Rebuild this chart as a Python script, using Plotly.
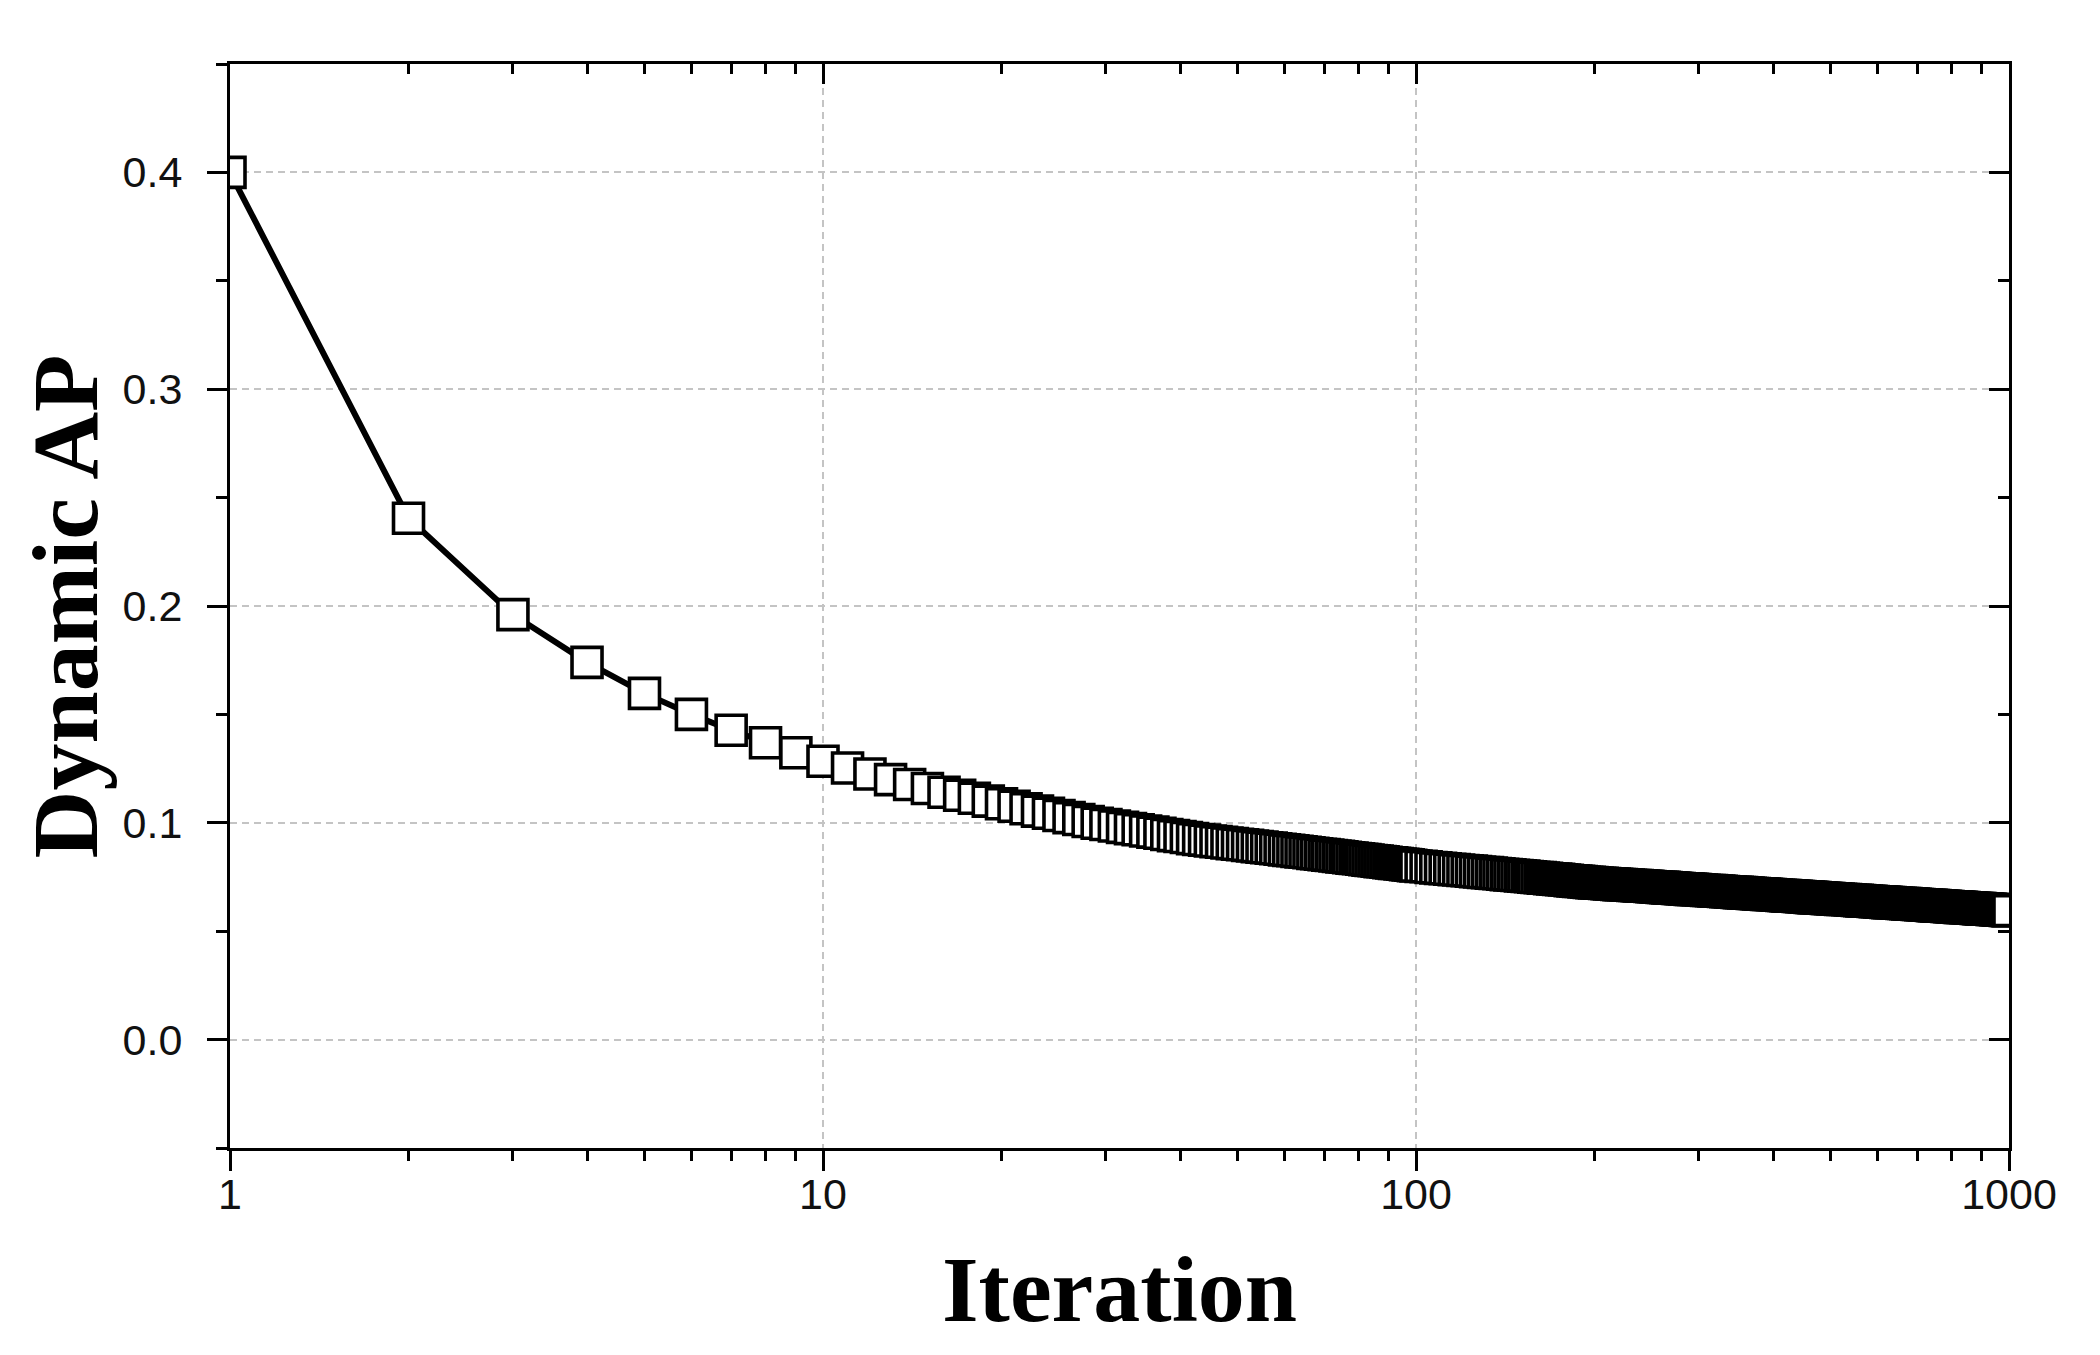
import plotly.graph_objects as go

# Iteration numbers (dense sampling so the markers merge into a band)
iterations_1_100 = list(range(1, 101))
iterations_102_300 = list(range(102, 301, 2))
iterations_303_501 = list(range(303, 502, 3))
iterations_505_1000 = list(range(505, 1001, 5))

# Dynamic AP
ap_1_100 = [
    0.4000, 0.2405, 0.1960, 0.1740, 0.1597, 0.1500, 0.1427, 0.1369, 0.1323, 0.1284,
    0.1253, 0.1225, 0.1199, 0.1177, 0.1158, 0.1141, 0.1127, 0.1113, 0.1100, 0.1088,
    0.1076, 0.1065, 0.1054, 0.1044, 0.1034, 0.1024, 0.1015, 0.1006, 0.0998, 0.0992,
    0.0985, 0.0979, 0.0973, 0.0968, 0.0962, 0.0957, 0.0952, 0.0946, 0.0941, 0.0937,
    0.0932, 0.0927, 0.0923, 0.0920, 0.0916, 0.0913, 0.0910, 0.0907, 0.0904, 0.0901,
    0.0899, 0.0896, 0.0893, 0.0890, 0.0888, 0.0885, 0.0883, 0.0880, 0.0878, 0.0875,
    0.0873, 0.0871, 0.0868, 0.0866, 0.0864, 0.0862, 0.0859, 0.0857, 0.0855, 0.0853,
    0.0851, 0.0849, 0.0847, 0.0845, 0.0843, 0.0841, 0.0839, 0.0837, 0.0835, 0.0834,
    0.0832, 0.0830, 0.0828, 0.0826, 0.0825, 0.0823, 0.0821, 0.0820, 0.0818, 0.0816,
    0.0815, 0.0813, 0.0812, 0.0810, 0.0809, 0.0807, 0.0806, 0.0804, 0.0802, 0.0801,
]
ap_102_300 = [
    0.0799, 0.0797, 0.0794, 0.0792, 0.0790, 0.0788, 0.0786, 0.0784, 0.0782, 0.0780,
    0.0779, 0.0777, 0.0775, 0.0773, 0.0771, 0.0770, 0.0768, 0.0766, 0.0765, 0.0763,
    0.0761, 0.0760, 0.0758, 0.0757, 0.0755, 0.0754, 0.0752, 0.0751, 0.0749, 0.0748,
    0.0747, 0.0745, 0.0744, 0.0742, 0.0741, 0.0740, 0.0739, 0.0737, 0.0736, 0.0735,
    0.0733, 0.0732, 0.0731, 0.0730, 0.0729, 0.0727, 0.0726, 0.0725, 0.0724, 0.0723,
    0.0722, 0.0721, 0.0721, 0.0720, 0.0719, 0.0718, 0.0718, 0.0717, 0.0716, 0.0715,
    0.0715, 0.0714, 0.0713, 0.0713, 0.0712, 0.0711, 0.0711, 0.0710, 0.0709, 0.0709,
    0.0708, 0.0707, 0.0707, 0.0706, 0.0705, 0.0705, 0.0704, 0.0703, 0.0703, 0.0702,
    0.0702, 0.0701, 0.0700, 0.0700, 0.0699, 0.0699, 0.0698, 0.0697, 0.0697, 0.0696,
    0.0696, 0.0695, 0.0695, 0.0694, 0.0693, 0.0693, 0.0692, 0.0692, 0.0691, 0.0691,
]
ap_303_501 = [
    0.0690, 0.0689, 0.0688, 0.0688, 0.0687, 0.0686, 0.0685, 0.0685, 0.0684, 0.0683,
    0.0682, 0.0682, 0.0681, 0.0680, 0.0680, 0.0679, 0.0678, 0.0678, 0.0677, 0.0676,
    0.0676, 0.0675, 0.0674, 0.0674, 0.0673, 0.0672, 0.0672, 0.0671, 0.0671, 0.0670,
    0.0669, 0.0669, 0.0668, 0.0668, 0.0667, 0.0666, 0.0666, 0.0665, 0.0665, 0.0664,
    0.0663, 0.0663, 0.0662, 0.0662, 0.0661, 0.0661, 0.0660, 0.0660, 0.0659, 0.0659,
    0.0658, 0.0658, 0.0657, 0.0656, 0.0656, 0.0655, 0.0655, 0.0654, 0.0654, 0.0653,
    0.0653, 0.0652, 0.0652, 0.0651, 0.0651, 0.0651, 0.0650,
]
ap_505_1000 = [
    0.0649, 0.0649, 0.0648, 0.0647, 0.0646, 0.0646, 0.0645, 0.0644, 0.0643, 0.0643,
    0.0642, 0.0641, 0.0640, 0.0640, 0.0639, 0.0638, 0.0638, 0.0637, 0.0636, 0.0636,
    0.0635, 0.0634, 0.0634, 0.0633, 0.0632, 0.0632, 0.0631, 0.0631, 0.0630, 0.0629,
    0.0629, 0.0628, 0.0628, 0.0627, 0.0626, 0.0626, 0.0625, 0.0625, 0.0624, 0.0623,
    0.0623, 0.0622, 0.0622, 0.0621, 0.0621, 0.0620, 0.0620, 0.0619, 0.0618, 0.0618,
    0.0617, 0.0617, 0.0616, 0.0616, 0.0615, 0.0615, 0.0614, 0.0614, 0.0613, 0.0613,
    0.0612, 0.0612, 0.0611, 0.0611, 0.0610, 0.0610, 0.0609, 0.0609, 0.0608, 0.0608,
    0.0608, 0.0607, 0.0607, 0.0606, 0.0606, 0.0605, 0.0605, 0.0604, 0.0604, 0.0603,
    0.0603, 0.0603, 0.0602, 0.0602, 0.0601, 0.0601, 0.0600, 0.0600, 0.0600, 0.0599,
    0.0599, 0.0598, 0.0598, 0.0598, 0.0597, 0.0597, 0.0596, 0.0596, 0.0595, 0.0595,
]

x_tickvals = [1, 10, 100, 1000]
x_minor_tickvals = [2, 3, 4, 5, 6, 7, 8, 9,
                    20, 30, 40, 50, 60, 70, 80, 90,
                    200, 300, 400, 500, 600, 700, 800, 900]

iterations = iterations_1_100 + iterations_102_300 + iterations_303_501 + iterations_505_1000
dynamic_ap = ap_1_100 + ap_102_300 + ap_303_501 + ap_505_1000

TICK_FONT = {"family": "Liberation Sans, Arial, sans-serif", "size": 43, "color": "#111"}
TITLE_FONT = "Liberation Serif, Times New Roman, serif"

fig = go.Figure()

fig.add_trace(
    go.Scatter(
        x=iterations,
        y=dynamic_ap,
        mode="lines+markers",
        line={"color": "black", "width": 6},
        marker={
            "symbol": "square",
            "size": 30,
            "color": "white",
            "line": {"color": "black", "width": 3.6},
        },
        cliponaxis=True,
        showlegend=False,
    )
)

# same data on the mirror axes so the top/right frame with inward ticks is drawn
fig.add_trace(
    go.Scatter(
        x=iterations,
        y=dynamic_ap,
        xaxis="x2",
        yaxis="y2",
        mode="markers",
        marker={"opacity": 0},
        hoverinfo="skip",
        showlegend=False,
    )
)

axis_common = {"showline": True, "linecolor": "black", "linewidth": 3,
               "zeroline": False, "tickcolor": "black", "tickwidth": 2.5}

# page body adds an 8px margin, so the figure is 16px smaller than the window
fig.update_layout(
    width=2084,
    height=1339,
    margin={"l": 222, "r": 83, "t": 56, "b": 199},
    paper_bgcolor="white",
    plot_bgcolor="white",
    xaxis={
        **axis_common,
        "type": "log",
        "range": [0, 3],
        "tickvals": x_tickvals,
        "ticktext": [str(v) for v in x_tickvals],
        "ticks": "outside",
        "ticklen": 20,
        "ticklabelstandoff": -14,
        "tickfont": TICK_FONT,
        "showgrid": True,
        "gridcolor": "#c4c4c4",
        "gridwidth": 2,
        "griddash": "7px,5px",
        "minor": {"tickvals": x_minor_tickvals, "ticks": "outside", "ticklen": 10,
                  "tickcolor": "black", "tickwidth": 2.5, "showgrid": False},
    },
    xaxis2={
        **axis_common,
        "type": "log",
        "range": [0, 3],
        "overlaying": "x",
        "side": "top",
        "tickvals": x_tickvals,
        "ticks": "inside",
        "ticklen": 20,
        "showticklabels": False,
        "showgrid": False,
        "minor": {"tickvals": x_minor_tickvals, "ticks": "inside", "ticklen": 10,
                  "tickcolor": "black", "tickwidth": 2.5, "showgrid": False},
    },
    yaxis={
        **axis_common,
        "range": [-0.05, 0.45],
        "tick0": 0,
        "dtick": 0.1,
        "tickformat": ".1f",
        "ticks": "outside",
        "ticklen": 20,
        "ticklabelstandoff": 16,
        "tickfont": TICK_FONT,
        "showgrid": True,
        "gridcolor": "#c4c4c4",
        "gridwidth": 2,
        "griddash": "7px,5px",
        "minor": {"dtick": 0.05, "tick0": 0, "ticks": "outside", "ticklen": 11,
                  "tickcolor": "black", "tickwidth": 2.5, "showgrid": False},
    },
    yaxis2={
        **axis_common,
        "range": [-0.05, 0.45],
        "overlaying": "y",
        "side": "right",
        "tick0": 0,
        "dtick": 0.1,
        "ticks": "inside",
        "ticklen": 20,
        "showticklabels": False,
        "showgrid": False,
        "minor": {"dtick": 0.05, "tick0": 0, "ticks": "inside", "ticklen": 11,
                  "tickcolor": "black", "tickwidth": 2.5, "showgrid": False},
    },
    annotations=[
        {
            "text": "<b>Iteration</b>",
            "xref": "paper",
            "yref": "paper",
            "x": 0.5,
            "y": -0.130,
            "xanchor": "center",
            "yanchor": "middle",
            "showarrow": False,
            "font": {"family": TITLE_FONT, "size": 94, "color": "black"},
        },
        {
            "text": "<b>Dynamic AP</b>",
            "xref": "paper",
            "yref": "paper",
            "x": -0.0925,
            "y": 0.5,
            "xanchor": "center",
            "yanchor": "middle",
            "textangle": -90,
            "showarrow": False,
            "font": {"family": TITLE_FONT, "size": 94, "color": "black"},
        },
    ],
)

fig.write_html("out.html")
